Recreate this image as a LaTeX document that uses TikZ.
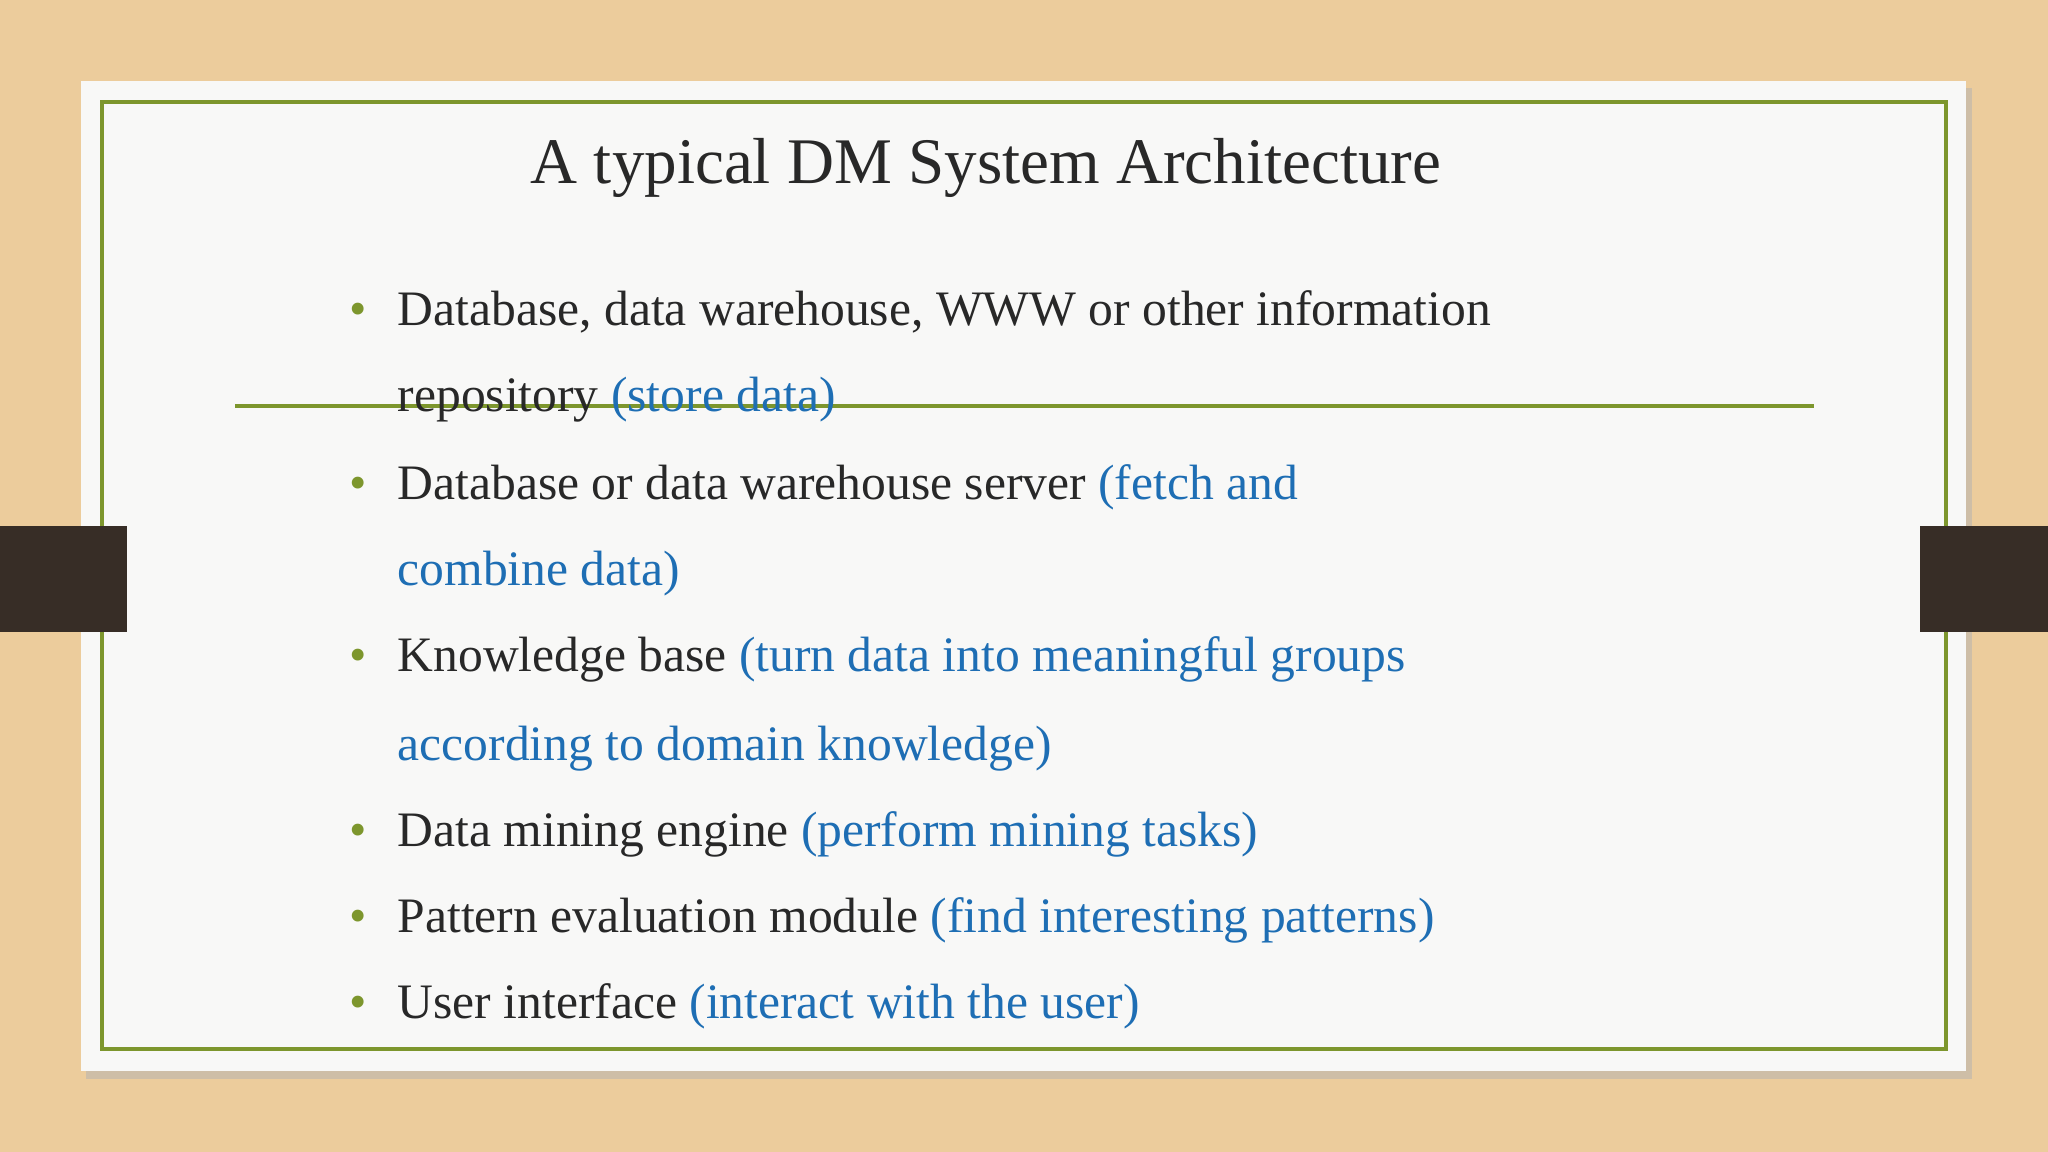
\documentclass[tikz,border=0pt]{standalone}
\usepackage{fontspec}
\setmainfont{Liberation Serif}
\definecolor{wood}{RGB}{236,204,156}
\definecolor{paper}{RGB}{248,248,247}
\definecolor{frame}{RGB}{125,150,45}
\definecolor{blu}{RGB}{30,110,180}
\definecolor{ink}{RGB}{40,40,40}
\definecolor{clipcol}{RGB}{55,45,38}
\tikzset{
  ln/.style={anchor=base west, inner sep=0pt, font=\fontsize{14.1}{17}\selectfont, text=ink},
  bul/.style={anchor=base west, inner sep=0pt, font=\fontsize{14.1}{17}\selectfont, text=frame}
}
\begin{document}
\begin{tikzpicture}[x=0.01cm,y=-0.01cm]
\fill[wood] (0,0) rectangle (2048,1152);
\useasboundingbox (0,0) rectangle (2048,1152);
\fill[black!30,opacity=0.5] (86,88) rectangle (1972,1079);
\fill[paper] (81,81) rectangle (1966,1071);
\draw[frame,line width=1.3pt] (102,102) rectangle (1946,1049);
\fill[clipcol] (0,526) rectangle (127,632);
\fill[clipcol] (1920,526) rectangle (2048,632);
\draw[frame,line width=1.1pt] (235,406) coordinate (l1) -- (1814,406) coordinate (l2);
\node[anchor=base, inner sep=0pt, font=\fontsize{18.5}{22}\selectfont, text=ink] (t) at (986,184) {A typical DM System Architecture};
\foreach \y/\n in {326/1,500/2,672/3,846/4,932/5,1018/6} {\node[bul] (b\n) at (349,\y) {\textbullet};}
\node[ln] (a1) at (397,326) {Database, data warehouse, WWW or other information};
\node[ln] (a2) at (397,412) {repository \textcolor{blu}{(store data)}};
\node[ln] (a3) at (397,500) {Database or data warehouse server \textcolor{blu}{(fetch and}};
\node[ln] (a4) at (397,586) {\textcolor{blu}{combine data)}};
\node[ln] (a5) at (397,672) {Knowledge base \textcolor{blu}{(turn data into meaningful groups}};
\node[ln] (a6) at (397,760) {\textcolor{blu}{according to domain knowledge)}};
\node[ln] (a7) at (397,846) {Data mining engine \textcolor{blu}{(perform mining tasks)}};
\node[ln] (a8) at (397,932) {Pattern evaluation module \textcolor{blu}{(find interesting patterns)}};
\node[ln] (a9) at (397,1018) {User interface \textcolor{blu}{(interact with the user)}};
\end{tikzpicture}
\end{document}
